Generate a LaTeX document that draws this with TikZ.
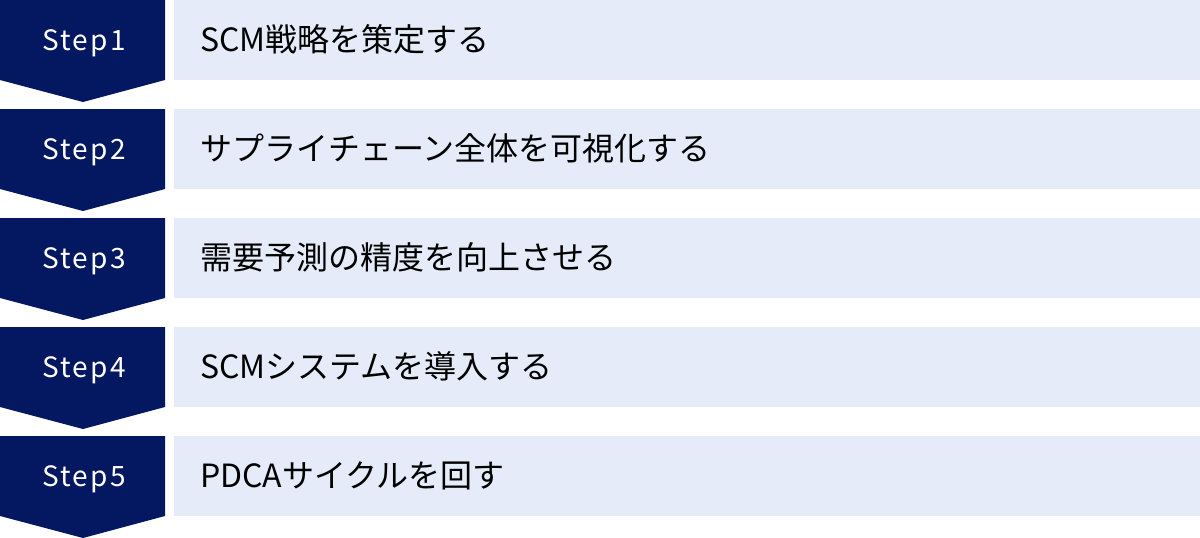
\documentclass[tikz,border=0pt]{standalone}
\usepackage{fontspec}
\setmainfont{Noto Sans CJK JP}
\definecolor{navy}{RGB}{4,24,98}
\definecolor{lightbox}{RGB}{229,235,248}
\tikzset{
  stepshape/.style={fill=navy, draw=none},
  bodybox/.style={fill=lightbox, draw=none},
  steplabel/.style={text=white, font=\fontsize{28}{28}\selectfont\addfontfeature{LetterSpace=8}, anchor=base, inner sep=0pt},
  bodylabel/.style={text=black, font=\fontsize{32}{32}\selectfont, anchor=base west, inner sep=0pt}
}
\begin{document}
\begin{tikzpicture}[x=1pt,y=-1pt]
\useasboundingbox (0,0) rectangle (1200,538);
\foreach \i/\t in {1/SCM戦略を策定する,2/サプライチェーン全体を可視化する,3/需要予測の精度を向上させる,4/SCMシステムを導入する,5/PDCAサイクルを回す}{
  \pgfmathsetmacro{\y}{(\i-1)*109}
  \fill[stepshape] (0,\y) -- (165,\y) -- (165,\y+80) -- (83,\y+102) -- (0,\y+80) -- cycle;
  \fill[bodybox] (174,\y) rectangle (1200,\y+80);
  \node[steplabel] (s\i) at (84,\y+50) {Step\i};
  \node[bodylabel] (b\i) at (200,\y+51) {\t};
}
\end{tikzpicture}
\end{document}
